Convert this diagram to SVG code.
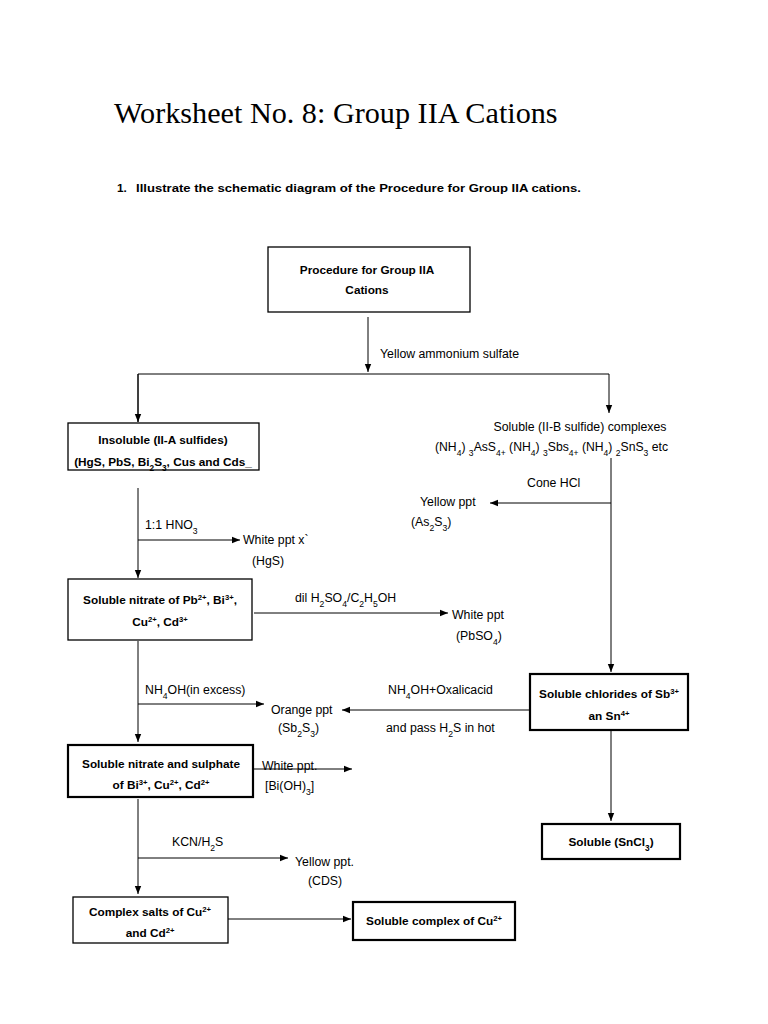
<svg xmlns="http://www.w3.org/2000/svg" width="768" height="1024" viewBox="0 0 768 1024">
<style>
text{font-family:"Liberation Sans",Arial,sans-serif;font-size:12.3px;fill:#000}
.b{font-weight:bold;font-size:11.8px}
.t{font-family:"Liberation Serif","Times New Roman",serif;font-size:30.2px}
.box{fill:#fff;stroke:#000;stroke-width:1.3}
.thick{stroke-width:2.2}
.ln{stroke:#000;stroke-width:1;fill:none}
.s{font-size:70%;baseline-shift:sub}
.p{font-size:65%;baseline-shift:super}
</style>
<defs>
<marker id="ar" viewBox="0 0 10 10" refX="10" refY="5" markerWidth="8" markerHeight="8" markerUnits="userSpaceOnUse" orient="auto">
<path d="M0,1 L10,5 L0,9 z" fill="#000"/>
</marker>
</defs>
<rect width="768" height="1024" fill="#fff"/>
<text class="t" x="114" y="123">Worksheet No. 8: Group IIA Cations</text>
<text class="b" x="117" y="192">1.</text>
<text class="b" x="136" y="192" textLength="445" lengthAdjust="spacingAndGlyphs">Illustrate the schematic diagram of the Procedure for Group IIA cations.</text>

<g id="connectors">
<line class="ln" x1="368" y1="317" x2="368" y2="372" marker-end="url(#ar)"/>
<polyline class="ln" points="138,422 138,374 609,374 609,413" marker-end="url(#ar)"/>
<line class="ln" x1="138" y1="374" x2="138" y2="422" marker-end="url(#ar)"/>
<line class="ln" x1="138" y1="488" x2="138" y2="578" marker-end="url(#ar)"/>
<line class="ln" x1="138" y1="540" x2="240" y2="540" marker-end="url(#ar)"/>
<line class="ln" x1="611" y1="458" x2="611" y2="672" marker-end="url(#ar)"/>
<line class="ln" x1="611" y1="503" x2="490" y2="503" marker-end="url(#ar)"/>
<line class="ln" x1="254" y1="613" x2="448" y2="613" marker-end="url(#ar)"/>
<line class="ln" x1="138" y1="641" x2="138" y2="742" marker-end="url(#ar)"/>
<line class="ln" x1="138" y1="704" x2="264" y2="704" marker-end="url(#ar)"/>
<line class="ln" x1="529" y1="710" x2="342" y2="710" marker-end="url(#ar)"/>
<line class="ln" x1="611" y1="731" x2="611" y2="821" marker-end="url(#ar)"/>
<line class="ln" x1="230" y1="769" x2="352" y2="769" marker-end="url(#ar)"/>
<line class="ln" x1="138" y1="799" x2="138" y2="894" marker-end="url(#ar)"/>
<line class="ln" x1="138" y1="858" x2="288" y2="858" marker-end="url(#ar)"/>
<line class="ln" x1="228" y1="919" x2="351" y2="919" marker-end="url(#ar)"/>
</g>

<g id="n_procedure">
<rect class="box" x="268" y="247" width="202" height="65"/>
<text class="b" x="367" y="274" text-anchor="middle">Procedure for Group IIA</text>
<text class="b" x="367" y="294" text-anchor="middle">Cations</text>
</g>
<g id="l_yellow_amm"><text x="380" y="358">Yellow ammonium sulfate</text></g>

<g id="n_insoluble">
<rect class="box" x="68" y="423" width="191" height="47"/>
<text class="b" x="163" y="444" text-anchor="middle">Insoluble (II-A sulfides)</text>
<text class="b" x="163" y="466" text-anchor="middle">(HgS, PbS, Bi<tspan class="s">2</tspan>S<tspan class="s">3</tspan>, Cus and Cds_</text>
</g>

<g id="n_soluble_iib">
<text x="580" y="431" text-anchor="middle">Soluble (II-B sulfide) complexes</text>
<text x="435" y="451" textLength="233" lengthAdjust="spacingAndGlyphs">(NH<tspan class="s">4</tspan>) <tspan class="s">3</tspan>AsS<tspan class="s">4+</tspan> (NH<tspan class="s">4</tspan>) <tspan class="s">3</tspan>Sbs<tspan class="s">4+</tspan> (NH<tspan class="s">4</tspan>) <tspan class="s">2</tspan>SnS<tspan class="s">3</tspan> etc</text>
</g>
<g id="l_cone"><text x="527" y="487">Cone HCl</text></g>
<g id="n_yellow_as">
<text x="420" y="506">Yellow ppt</text>
<text x="411" y="526">(As<tspan class="s">2</tspan>S<tspan class="s">3</tspan>)</text>
</g>

<g id="l_hno3"><text x="145" y="529">1:1 HNO<tspan class="s">3</tspan></text></g>
<g id="n_white_hgs">
<text x="243" y="544">White ppt x`</text>
<text x="252" y="565">(HgS)</text>
</g>

<g id="n_nitrate">
<rect class="box" x="68" y="579" width="184" height="61"/>
<text class="b" x="160" y="604" text-anchor="middle">Soluble nitrate of Pb<tspan class="p">2+</tspan>, Bi<tspan class="p">3+</tspan>,</text>
<text class="b" x="160" y="626" text-anchor="middle">Cu<tspan class="p">2+</tspan>, Cd<tspan class="p">3+</tspan></text>
</g>
<g id="l_dil"><text x="295" y="602">dil H<tspan class="s">2</tspan>SO<tspan class="s">4</tspan>/C<tspan class="s">2</tspan>H<tspan class="s">5</tspan>OH</text></g>
<g id="n_white_pbso4">
<text x="452" y="619">White ppt</text>
<text x="456" y="640">(PbSO<tspan class="s">4</tspan>)</text>
</g>

<g id="l_nh4oh"><text x="145" y="694">NH<tspan class="s">4</tspan>OH(in excess)</text></g>
<g id="n_orange">
<text x="271" y="714">Orange ppt</text>
<text x="278" y="732">(Sb<tspan class="s">2</tspan>S<tspan class="s">3</tspan>)</text>
</g>
<g id="l_oxalic">
<text x="388" y="694">NH<tspan class="s">4</tspan>OH+Oxalicacid</text>
<text x="386" y="732">and pass H<tspan class="s">2</tspan>S in hot</text>
</g>

<g id="n_chlorides">
<rect class="box thick" x="530" y="674" width="158" height="56"/>
<text class="b" x="609" y="698" text-anchor="middle">Soluble chlorides of Sb<tspan class="p">3+</tspan></text>
<text class="b" x="609" y="720" text-anchor="middle">an Sn<tspan class="p">4+</tspan></text>
</g>
<g id="n_sncl3">
<rect class="box thick" x="542" y="824" width="138" height="35"/>
<text class="b" x="611" y="846" text-anchor="middle">Soluble (SnCl<tspan class="s">3</tspan>)</text>
</g>

<g id="n_sulphate">
<rect class="box thick" x="68" y="745" width="185" height="52"/>
<text class="b" x="161" y="768" text-anchor="middle">Soluble nitrate and sulphate</text>
<text class="b" x="161" y="789" text-anchor="middle">of Bi<tspan class="p">3+</tspan>, Cu<tspan class="p">2+</tspan>, Cd<tspan class="p">2+</tspan></text>
</g>
<g id="n_white_bioh">
<text x="262" y="770">White ppt.</text>
<text x="265" y="790">[Bi(OH)<tspan class="s">3</tspan>]</text>
</g>

<g id="l_kcn"><text x="172" y="846">KCN/H<tspan class="s">2</tspan>S</text></g>
<g id="n_yellow_cds">
<text x="295" y="866">Yellow ppt.</text>
<text x="308" y="885">(CDS)</text>
</g>

<g id="n_complex">
<rect class="box" x="73" y="897" width="155" height="46"/>
<text class="b" x="150" y="916" text-anchor="middle">Complex salts of Cu<tspan class="p">2+</tspan></text>
<text class="b" x="150" y="937" text-anchor="middle">and Cd<tspan class="p">2+</tspan></text>
</g>
<g id="n_cu_complex">
<rect class="box thick" x="353" y="902" width="162" height="38"/>
<text class="b" x="434" y="925" text-anchor="middle">Soluble complex of Cu<tspan class="p">2+</tspan></text>
</g>
</svg>
